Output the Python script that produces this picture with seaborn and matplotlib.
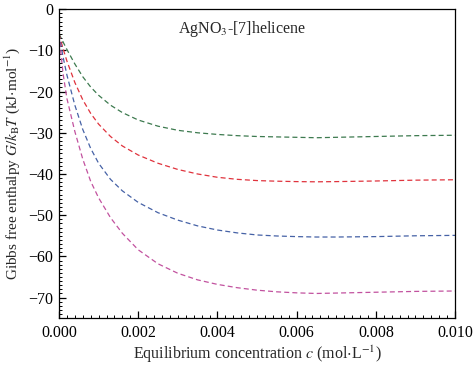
import pandas as pd
import seaborn as sns
import matplotlib.pyplot as plt
from matplotlib.ticker import MultipleLocator, FuncFormatter

# Concentration grid (mol/L)
conc = [0, 0.0001, 0.0002, 0.0004, 0.0006, 0.0008, 0.001, 0.0013, 0.0016,
        0.002, 0.0025, 0.003, 0.0035, 0.004, 0.0045, 0.005, 0.0055, 0.006,
        0.0065, 0.007, 0.008, 0.009, 0.01]

# Gibbs free enthalpy
g_green = [-6, -7.9, -9.8, -13.3, -16.4, -18.9, -20.9, -23.3, -25.1, -26.9,
           -28.4, -29.4, -30.0, -30.4, -30.7, -30.9, -31.0, -31.1, -31.2,
           -31.1, -30.9, -30.7, -30.6]
g_red = [-6, -9.5, -12.6, -17.8, -22.0, -25.3, -27.9, -30.9, -33.2, -35.4,
         -37.4, -38.9, -40.0, -40.8, -41.3, -41.6, -41.75, -41.85, -41.9,
         -41.85, -41.7, -41.5, -41.4]
g_blue = [-6, -11.5, -16.0, -23.3, -29.2, -33.8, -37.4, -41.3, -44.1, -46.9,
          -49.4, -51.2, -52.6, -53.6, -54.3, -54.8, -55.05, -55.2, -55.3,
          -55.3, -55.2, -55.0, -54.9]
g_magenta = [-6, -15.5, -21.7, -29.7, -36.4, -41.8, -45.8, -50.6, -54.4, -58.4,
             -61.8, -64.1, -65.7, -66.8, -67.6, -68.2, -68.6, -68.85, -69.0,
             -68.9, -68.7, -68.5, -68.4]

series_names = ["s1", "s2", "s3", "s4"]
colors = ["#3d7a4f", "#e0333d", "#4662a6", "#c2529f"]

frames = []
for name, vals in zip(series_names, [g_green, g_red, g_blue, g_magenta]):
    frames.append(pd.DataFrame({"c": conc, "G": vals, "series": name}))
df = pd.concat(frames)

sns.set_style("ticks")
plt.rcParams["font.family"] = ["Liberation Serif", "DejaVu Serif"]
plt.rcParams["mathtext.fontset"] = "stix"

fig = plt.figure(figsize=(4.74, 3.67), dpi=100)
ax = fig.add_axes([0.1245, 0.133, 0.8355, 0.842])

sns.lineplot(data=df, x="c", y="G", hue="series", palette=colors,
             linestyle="--", linewidth=0.9, legend=False, ax=ax)
for ln in ax.lines:
    ln.set_dashes([4, 2.5])
    ln.set_dash_joinstyle("round")

ax.set_xlim(0, 0.01)
ax.set_ylim(-75, 0)
ax.xaxis.set_major_locator(MultipleLocator(0.002))
ax.xaxis.set_minor_locator(MultipleLocator(0.0002))
ax.yaxis.set_major_locator(MultipleLocator(10))
ax.yaxis.set_minor_locator(MultipleLocator(1))
ax.xaxis.set_major_formatter(FuncFormatter(lambda v, p: f"{v:.3f}"))
ax.yaxis.set_major_formatter(FuncFormatter(lambda v, p: f"{v:.0f}".replace("-", "\u2212")))
ax.tick_params(which="both", direction="in", top=False, right=False,
               labelsize=11.5, colors="black")
ax.tick_params(axis="x", pad=5)
ax.tick_params(axis="y", pad=4)
ax.tick_params(which="major", length=5, width=0.9)
ax.tick_params(which="minor", length=2.5, width=0.7)
for sp in ax.spines.values():
    sp.set_visible(True)
    sp.set_linewidth(0.9)
    sp.set_color("black")

ax.set_xlabel(r"Equilibrium concentration $c$ (mol$\cdot$L$^{-1}$)",
              fontsize=11.5, labelpad=2)
ax.set_ylabel(r"Gibbs free enthalpy $G/k_\mathrm{B}T$ (kJ$\cdot$mol$^{-1}$)",
              fontsize=11, labelpad=5)
ax.text(0.462, 0.935, r"AgNO$_3$-[7]helicene", transform=ax.transAxes,
        ha="center", va="center", fontsize=11.5)

fig.savefig("out.png", dpi=100)
